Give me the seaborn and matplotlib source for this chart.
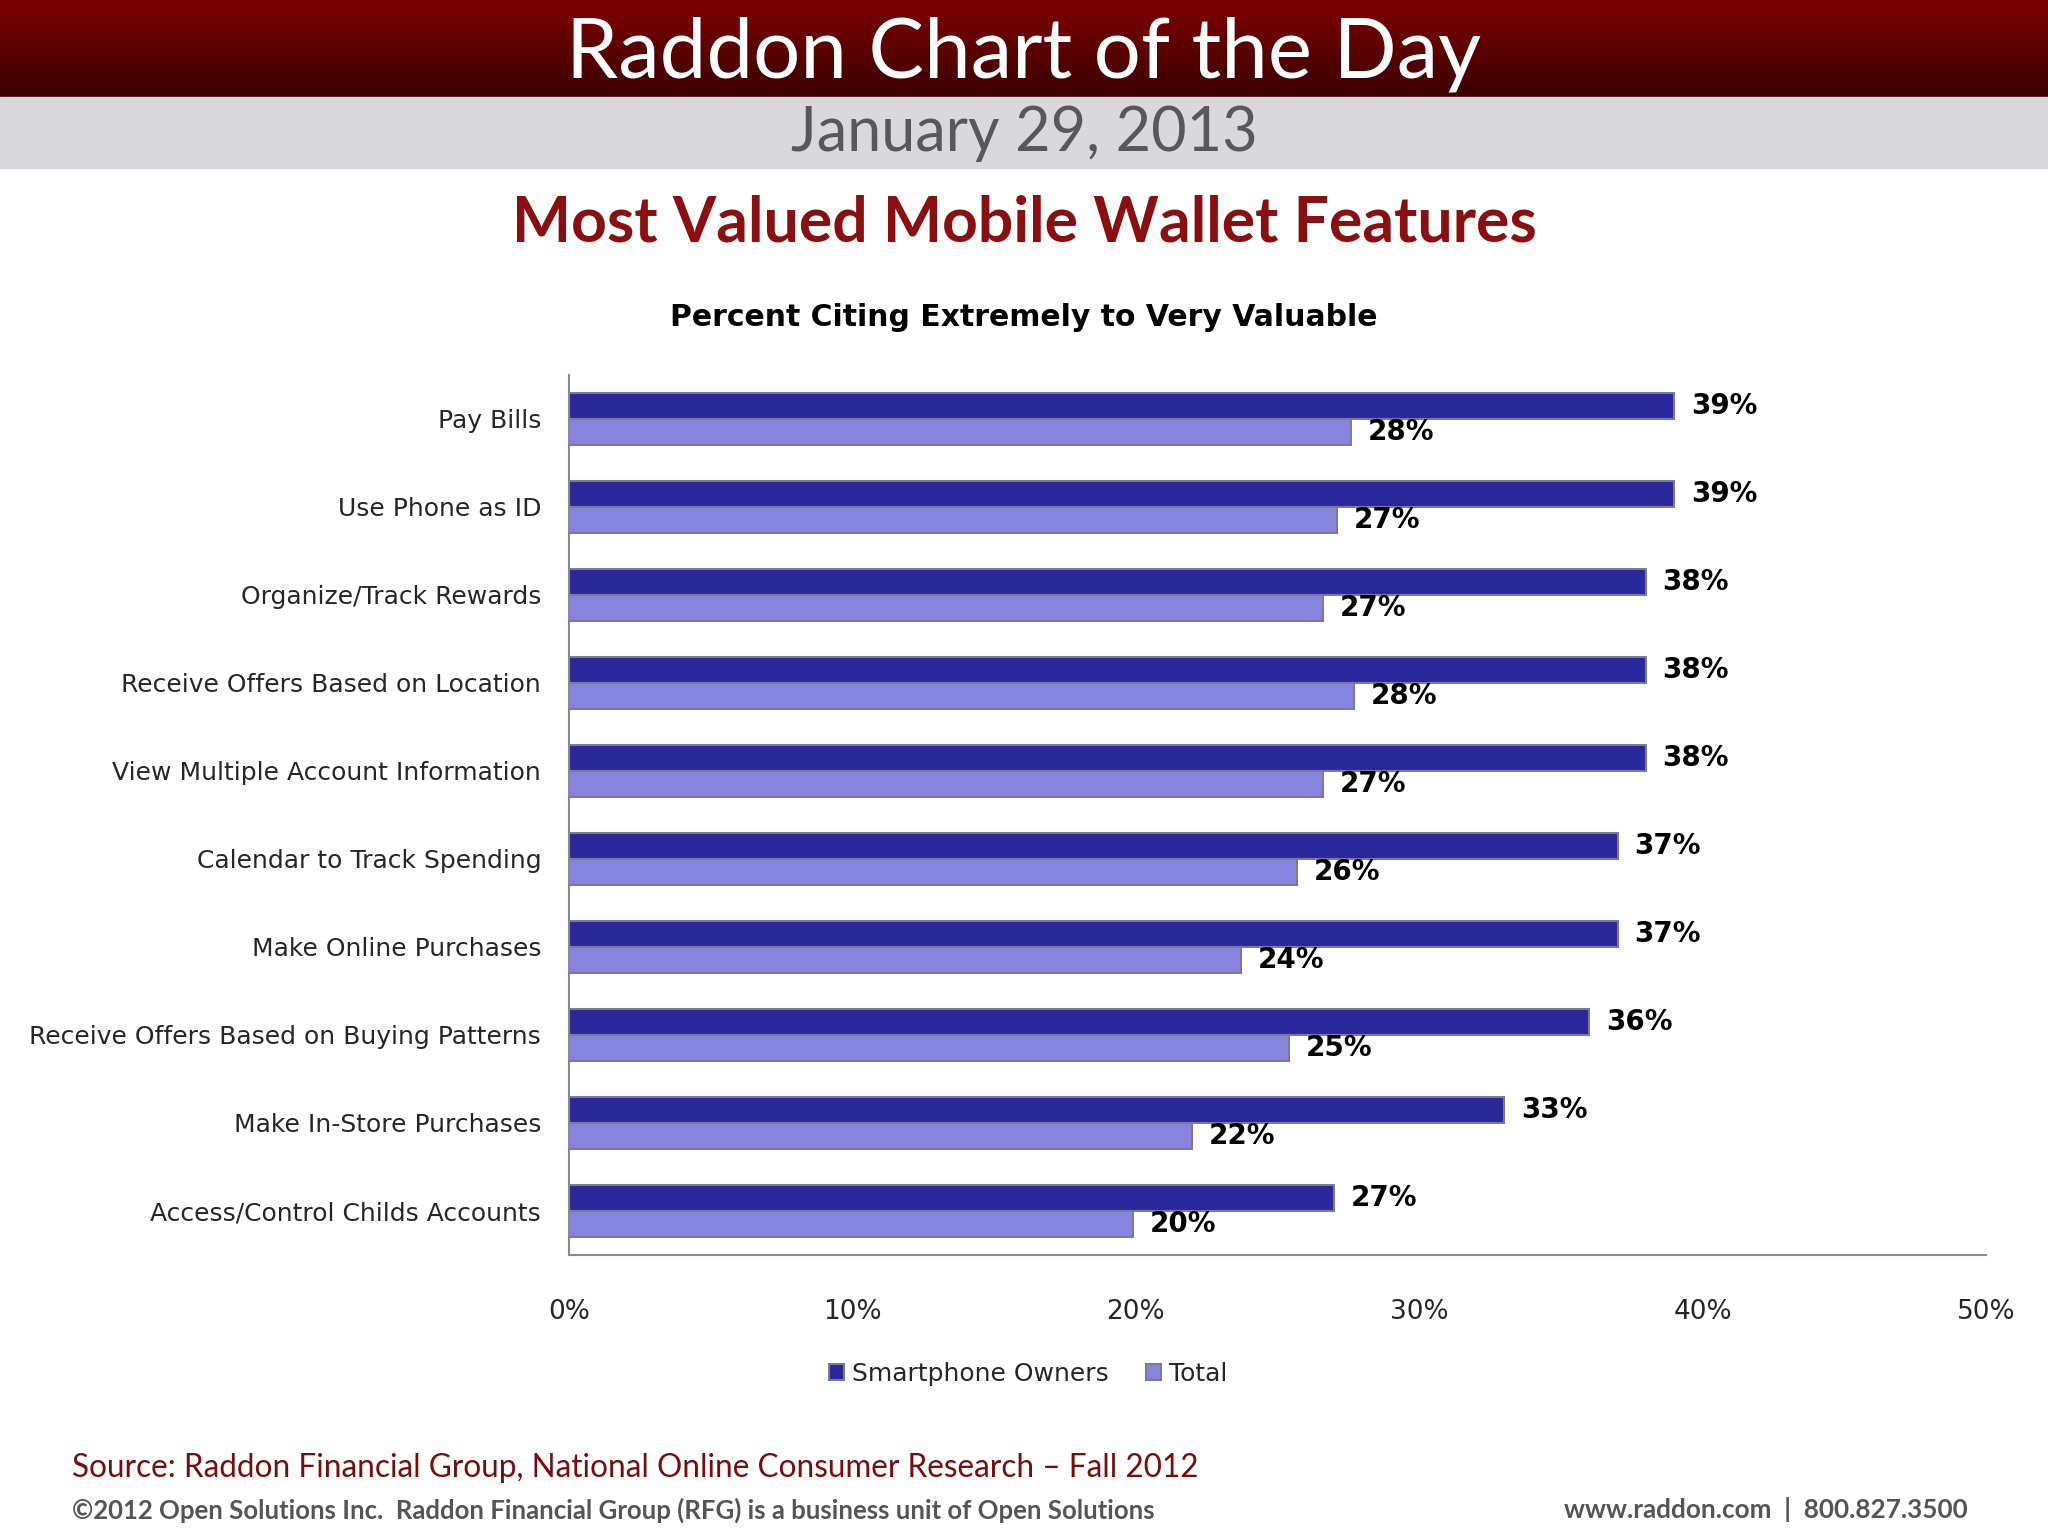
import numpy as np
import pandas as pd
import matplotlib
matplotlib.use("Agg")
import matplotlib.pyplot as plt
from matplotlib.patches import Rectangle
import seaborn as sns

# Data
features = [
    'Pay Bills', 'Use Phone as ID', 'Organize/Track Rewards',
    'Receive Offers Based on Location', 'View Multiple Account Information',
    'Calendar to Track Spending', 'Make Online Purchases',
    'Receive Offers Based on Buying Patterns', 'Make In-Store Purchases',
    'Access/Control Childs Accounts'
]
smartphone = [39.0, 39.0, 38.0, 38.0, 38.0, 37.0, 37.0, 36.0, 33.0, 27.0]
total = [27.6, 27.1, 26.6, 27.7, 26.6, 25.7, 23.7, 25.4, 22.0, 19.9]
series_names = ['Smartphone Owners', 'Total']
x_ticks = [0, 10, 20, 30, 40, 50]

df = pd.DataFrame({
    'Feature': features * 2,
    'Series': [series_names[0]] * len(features) + [series_names[1]] * len(features),
    'Value': smartphone + total,
})

dark = '#28289a'
light = '#8585e0'
red = '#8b0f10'

sns.set_theme(style="white")
plt.rcParams['font.family'] = ['DejaVu Sans']

fig = plt.figure(figsize=(20.48, 15.36), dpi=100)

# Header bands
bg = fig.add_axes([0, 0, 1, 1], zorder=-10)
bg.axis('off')
grad = np.linspace(0, 1, 256).reshape(-1, 1)
top_col = np.array([0.50, 0.0, 0.0])
bot_col = np.array([0.23, 0.0, 0.0])
img = top_col + (bot_col - top_col) * grad[:, :, None]
bg.imshow(img, extent=[0, 1, 1 - 97 / 1536, 1], aspect='auto', zorder=0)
bg.add_patch(Rectangle((0, 1 - 168 / 1536), 1, 71 / 1536, color='#d9d8db', zorder=0))
bg.set_xlim(0, 1)
bg.set_ylim(0, 1)

fig.text(0.5, 1 - 54 / 1536, 'Raddon Chart of the Day', ha='center', va='center',
         color='white', fontsize=60, family='Lato')
fig.text(0.5, 1 - 133 / 1536, 'January 29, 2013', ha='center', va='center',
         color='#58585a', fontsize=44, family='Lato')
fig.text(0.5, 1 - 223 / 1536, 'Most Valued Mobile Wallet Features', ha='center', va='center',
         color=red, fontsize=45, family='Lato', fontweight='bold')
fig.text(0.5, 1 - 317 / 1536, 'Percent Citing Extremely to Very Valuable', ha='center',
         va='center', color='black', fontsize=21.5, fontweight='bold')

# Chart
ax = fig.add_axes([569 / 2048, 1 - 1255 / 1536, (1986 - 569) / 2048, (1255 - 375) / 1536])
sns.barplot(data=df, y='Feature', x='Value', hue='Series', orient='h',
            palette=[dark, light], saturation=1, width=0.58, edgecolor='#7a7a9a',
            linewidth=1.5, ax=ax, legend=True)

for cont in ax.containers:
    ax.bar_label(cont, labels=[f"{v:.0f}%" for v in cont.datavalues], padding=12,
                 fontsize=20, fontweight='bold', color='black')

ax.set_xlim(0, 50)
ax.set_ylim(9.5, -0.5)
ax.set_xticks(x_ticks)
ax.set_xticklabels([f"{t}%" for t in x_ticks])
ax.set_xlabel('')
ax.set_ylabel('')
ax.tick_params(axis='x', length=0, pad=32, labelsize=19)
ax.tick_params(axis='y', length=0, pad=20, labelsize=18)
for s in ['top', 'right']:
    ax.spines[s].set_visible(False)
for s in ['left', 'bottom']:
    ax.spines[s].set_color('#8a8a8a')
    ax.spines[s].set_linewidth(1.5)
ax.grid(False)

handles, labels = ax.get_legend_handles_labels()
ax.legend(handles, labels, loc='center', bbox_to_anchor=(0.502, 1 - 1374 / 1536),
          bbox_transform=fig.transFigure, ncol=2, frameon=False, fontsize=18,
          handlelength=0.6, handleheight=0.6, handletextpad=0.3, columnspacing=1.5)

# Footer
fig.text(72 / 2048, 1 - 1468 / 1536,
         'Source: Raddon Financial Group, National Online Consumer Research \u2013 Fall 2012',
         ha='left', va='center', color='#7a0c0c', fontsize=22.7, family='Lato')
fig.text(72 / 2048, 1 - 1510 / 1536,
         '\u00a92012 Open Solutions Inc.  Raddon Financial Group (RFG) is a business unit of Open Solutions',
         ha='left', va='center', color='#555555', fontsize=18.5, family='Lato', fontweight='bold')
fig.text(1968 / 2048, 1 - 1510 / 1536, 'www.raddon.com  |  800.827.3500',
         ha='right', va='center', color='#555555', fontsize=18.8, family='Lato', fontweight='bold')

fig.savefig('out.png', dpi=100)
